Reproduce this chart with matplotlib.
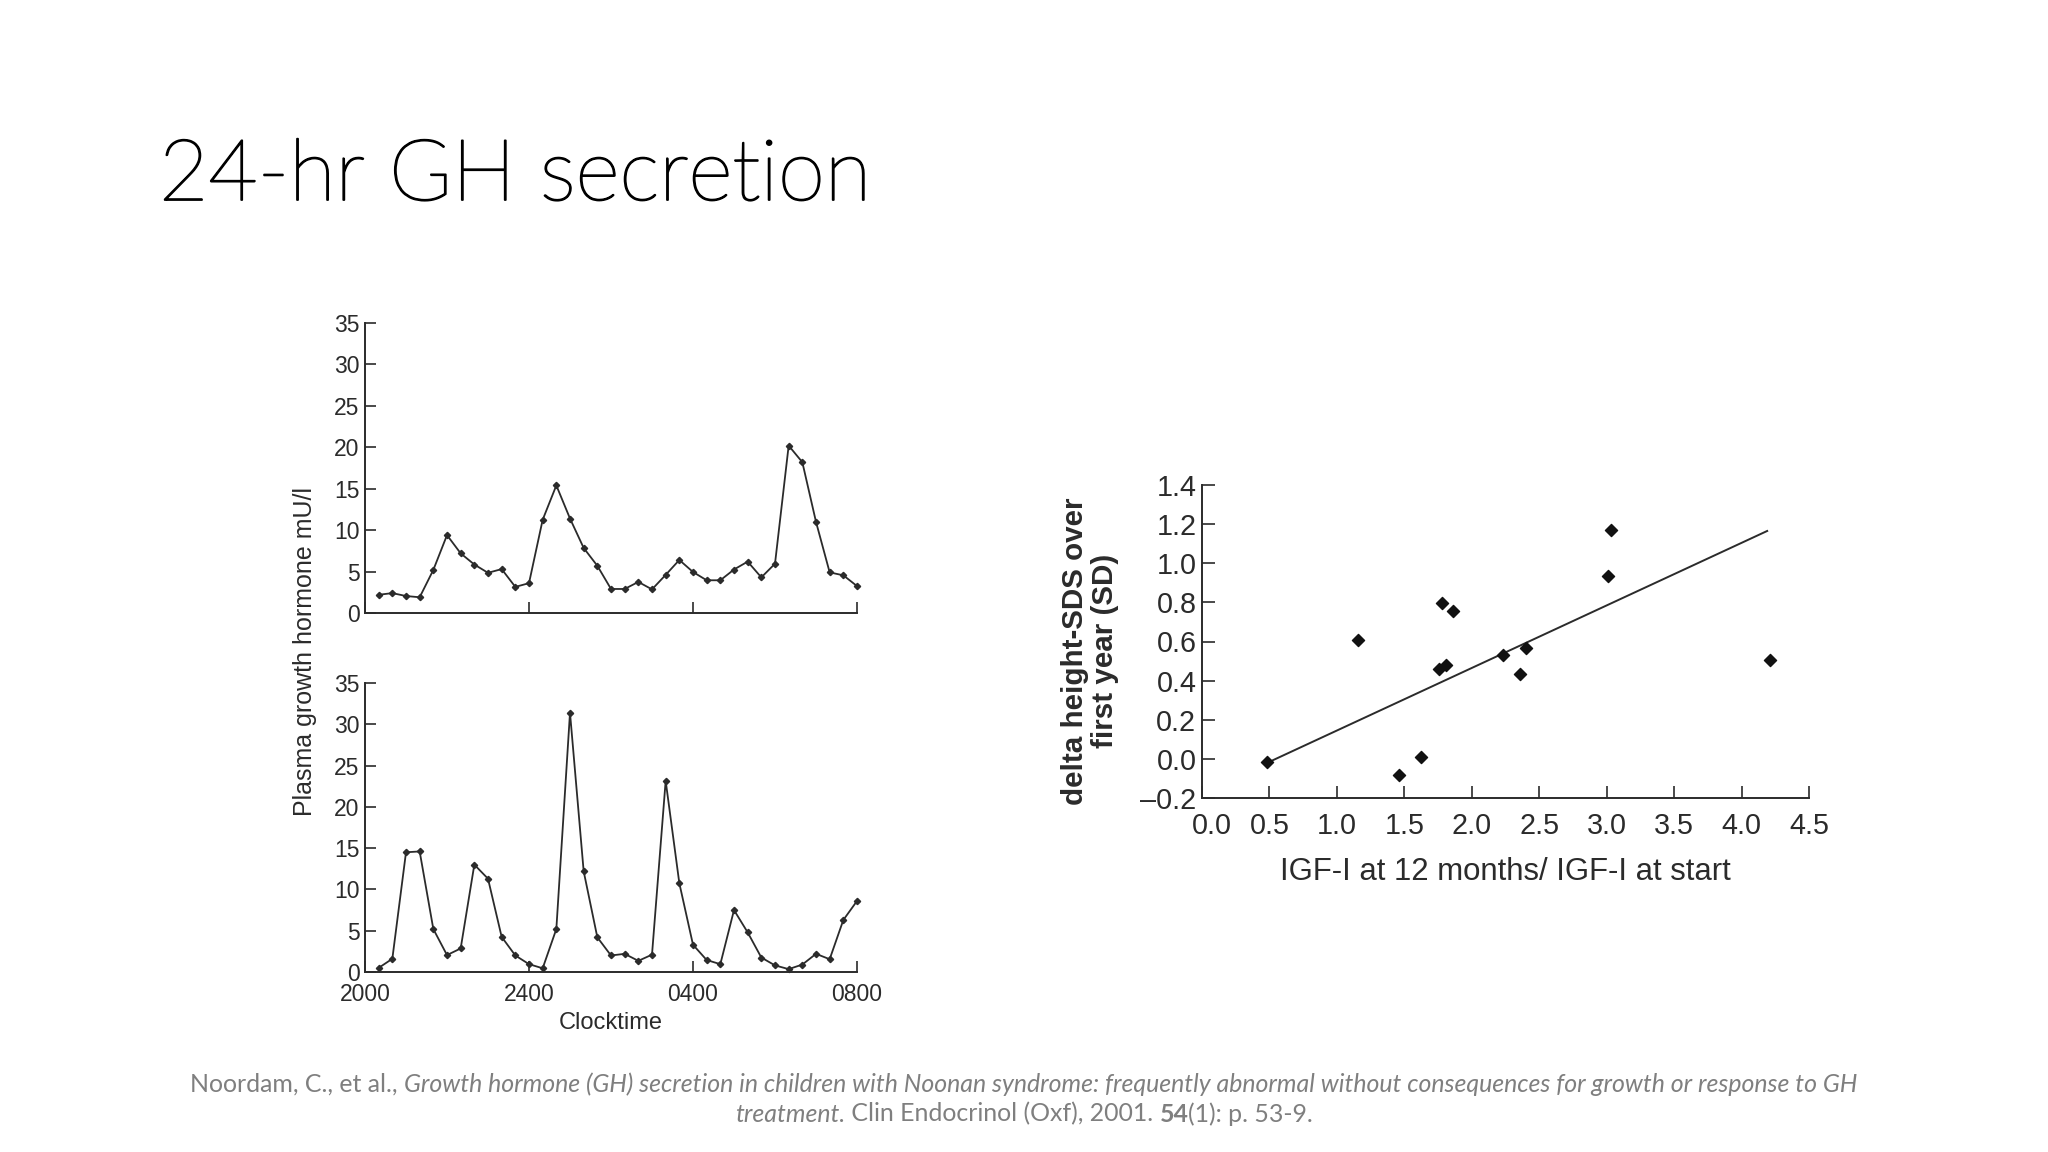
import matplotlib
matplotlib.use("Agg")
import matplotlib.pyplot as plt
import matplotlib.transforms as mtransforms
import matplotlib.patheffects as pe
import numpy as np

# GH profiles, sampled every 20 min from 2020 to 0800 (hours after 2000)
sample_hours = np.arange(20, 721, 20) / 60.0
gh_top = [2.2, 2.4, 2.05, 1.9, 5.2, 9.4, 7.2, 5.85, 4.85, 5.3, 3.15, 3.6,
          11.25, 15.4, 11.4, 7.85, 5.7, 2.9, 2.9, 3.75, 2.85, 4.6, 6.4, 4.95,
          3.95, 3.95, 5.25, 6.2, 4.3, 5.95, 20.2, 18.2, 11.0, 4.9, 4.55, 3.25]
gh_bottom = [0.5, 1.6, 14.5, 14.6, 5.2, 2.05, 2.85, 13.0, 11.3, 4.25, 2.0, 0.95,
             0.45, 5.2, 31.4, 12.2, 4.2, 2.0, 2.2, 1.35, 2.1, 23.15, 10.75, 3.3,
             1.45, 0.95, 7.5, 4.8, 1.75, 0.8, 0.35, 0.9, 2.2, 1.55, 6.3, 8.6]
clock_ticks = [0, 4, 8, 12]
clock_labels = ["2000", "2400", "0400", "0800"]
gh_ticks = [0, 5, 10, 15, 20, 25, 30, 35]

# IGF-I ratio vs delta height SDS
igf_ratio = [0.48, 1.16, 1.46, 1.62, 1.76, 1.81, 1.78, 1.86, 2.23, 2.40, 2.36, 3.01, 3.03, 4.21]
delta_sds = [-0.017, 0.606, -0.08, 0.009, 0.46, 0.478, 0.798, 0.754, 0.533, 0.565, 0.432, 0.936, 1.171, 0.507]
fit_x = [0.5, 4.19]
fit_y = [-0.015, 1.165]
igf_ticks = [0.0, 0.5, 1.0, 1.5, 2.0, 2.5, 3.0, 3.5, 4.0, 4.5]
sds_ticks = [-0.2, 0.0, 0.2, 0.4, 0.6, 0.8, 1.0, 1.2, 1.4]

W, H = 2048, 1152
ink = "#2b2b2b"
chart_font = ["Liberation Sans", "DejaVu Sans"]
slide_font = ["Lato", "DejaVu Sans"]

fig = plt.figure(figsize=(W / 100, H / 100), dpi=100)
fig.patch.set_facecolor("white")


def px_axes(x0, y0, x1, y1):
    return fig.add_axes([x0 / W, 1 - y1 / H, (x1 - x0) / W, (y1 - y0) / H])


def style_axes(ax, size, tick_len):
    for s in ["top", "right"]:
        ax.spines[s].set_visible(False)
    for s in ["left", "bottom"]:
        ax.spines[s].set_color(ink)
        ax.spines[s].set_linewidth(1.4)
    ax.tick_params(direction="in", length=tick_len, width=1.2, colors=ink,
                   labelsize=size, pad=4)
    for lab in ax.get_xticklabels() + ax.get_yticklabels():
        lab.set_family(chart_font)
        lab.set_color(ink)


def gh_panel(ax, values, show_x):
    ax.plot(sample_hours, values, color=ink, lw=1.3, marker="D", ms=3.2,
            clip_on=False)
    ax.set_xlim(0, 12)
    ax.set_ylim(0, 35)
    ax.set_xticks(clock_ticks)
    ax.set_yticks(gh_ticks)
    if show_x:
        ax.set_xticklabels(clock_labels)
    else:
        ax.set_xticklabels([])
    style_axes(ax, 16.5, 8)
    ax.tick_params(axis="x", pad=8)


ax1 = px_axes(365, 323, 857, 613)
gh_panel(ax1, gh_top, False)
ax2 = px_axes(365, 683, 857, 972)
gh_panel(ax2, gh_bottom, True)
ax2.set_xlabel("Clocktime", fontsize=17, family=chart_font, color=ink, labelpad=4)

fig.text(305 / W, 1 - 652 / H, "Plasma growth hormone mU/l", rotation=90,
         ha="center", va="center", fontsize=18, family=chart_font, color=ink)

# scatter panel
ax3 = px_axes(1202, 485, 1809, 798)
ax3.scatter(igf_ratio, delta_sds, marker="D", s=38, color="#111111", zorder=3,
            clip_on=False)
ax3.plot(fit_x, fit_y, color=ink, lw=1.4)
ax3.set_xlim(0, 4.5)
ax3.set_ylim(-0.2, 1.4)
ax3.set_xticks(igf_ticks)
ax3.set_xticklabels([f"{v:.1f}" for v in igf_ticks])
ax3.set_yticks(sds_ticks)
ax3.set_yticklabels([f"{v:.1f}".replace("-", "\u2013") for v in sds_ticks])
style_axes(ax3, 20.7, 9)
ax3.tick_params(axis="x", pad=10)
# first x label sits a little right of its tick, clear of the -0.2
first = ax3.get_xticklabels()[0]
first.set_transform(first.get_transform() +
                    mtransforms.ScaledTranslation(0.1, 0, fig.dpi_scale_trans))
ax3.set_xlabel("IGF-I at 12 months/ IGF-I at start", fontsize=22.4,
               family=chart_font, color=ink, labelpad=12)
fig.text(1090 / W, 1 - 651 / H, "delta height-SDS over\nfirst year (SD)",
         rotation=90, ha="center", va="center", multialignment="center",
         fontsize=21.3, fontweight="bold", family=chart_font, color=ink,
         linespacing=1.1)

# slide title (light face, slightly thickened)
fig.text(159 / W, 1 - 200 / H, "24-hr GH secretion", fontsize=61.3,
         family=slide_font, fontweight="light", color="black", va="baseline",
         path_effects=[pe.withStroke(linewidth=1.3, foreground="black")])

# citation with mixed styles
cite_lines = [
    [("Noordam, C., et al., ", "normal", "normal"),
     ("Growth hormone (GH) secretion in children with Noonan syndrome: frequently abnormal without consequences for growth or response to GH", "italic", "normal")],
    [("treatment.", "italic", "normal"),
     (" Clin Endocrinol (Oxf), 2001. ", "normal", "normal"),
     ("54", "normal", "bold"),
     ("(1): p. 53-9.", "normal", "normal")],
]
cite_y = [1084, 1114]
renderer = fig.canvas.get_renderer()
for pieces, yc in zip(cite_lines, cite_y):
    texts = []
    for s, st, wt in pieces:
        t = fig.text(0, 1 - yc / H, s.replace(" ", "\u00a0"), fontsize=17.9,
                     style=st, fontweight=wt, family=slide_font,
                     color="#7f7f7f", va="center")
        texts.append(t)
    widths = [t.get_window_extent(renderer).width for t in texts]
    x = W / 2 - sum(widths) / 2
    for t, w in zip(texts, widths):
        t.set_x(x / W)
        x += w

fig.savefig("out.png", dpi=100, facecolor="white")
